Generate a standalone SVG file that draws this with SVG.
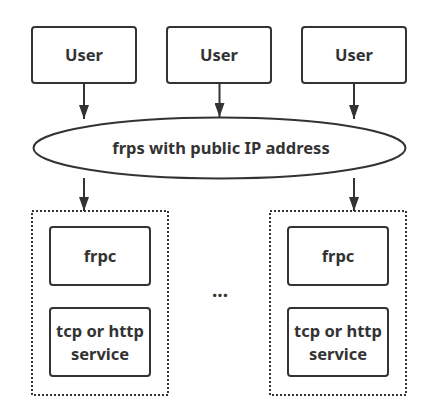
<svg xmlns="http://www.w3.org/2000/svg" width="435" height="415" viewBox="0 0 435 415">
<style>
.box{fill:#fff;stroke:#333;stroke-width:2}
.grp{fill:none;stroke:#333;stroke-width:2;stroke-dasharray:2 2}
.t{font-family:"Noto Sans","DejaVu Sans",sans-serif;font-weight:bold;font-size:16.5px;fill:#333;text-anchor:middle}
.c{stroke:#333;stroke-width:2;fill:none}
</style>
<defs>
<marker id="ah" markerWidth="14" markerHeight="10" refX="14" refY="5" orient="auto" markerUnits="userSpaceOnUse" viewBox="0 0 14 10">
<path d="M0,0 L14,5 L0,10 Z" fill="#333"/>
</marker>
</defs>
<rect width="435" height="415" fill="#fff"/>
<g id="connectors">
<line class="c" x1="84" y1="84" x2="84" y2="119" marker-end="url(#ah)"/>
<line class="c" x1="219.5" y1="84" x2="219.5" y2="117" marker-end="url(#ah)"/>
<line class="c" x1="354" y1="84" x2="354" y2="119" marker-end="url(#ah)"/>
<line class="c" x1="84" y1="178" x2="84" y2="211" marker-end="url(#ah)"/>
<line class="c" x1="354" y1="178" x2="354" y2="211" marker-end="url(#ah)"/>
</g>
<g id="user1"><rect class="box" x="32" y="27" width="104" height="56" rx="3"/><text class="t" x="84" y="61">User</text></g>
<g id="user2"><rect class="box" x="167" y="27" width="104" height="56" rx="3"/><text class="t" x="219" y="61">User</text></g>
<g id="user3"><rect class="box" x="302" y="27" width="104" height="56" rx="3"/><text class="t" x="354" y="61">User</text></g>
<g id="frps"><ellipse class="box" cx="219.5" cy="148" rx="186" ry="30.5"/><text class="t" x="221" y="154">frps with public IP address</text></g>
<g id="client1">
<rect class="grp" x="32" y="211" width="136" height="184"/>
<g id="frpc1"><rect class="box" x="50" y="227" width="100" height="58" rx="3"/><text class="t" x="100" y="262">frpc</text></g>
<g id="svc1"><rect class="box" x="50" y="308" width="100" height="68" rx="3"/><text class="t"><tspan x="100" y="337">tcp or http</tspan><tspan x="100" y="360">service</tspan></text></g>
</g>
<g id="client2">
<rect class="grp" x="270" y="211" width="136" height="184"/>
<g id="frpc2"><rect class="box" x="288" y="227" width="100" height="58" rx="3"/><text class="t" x="338" y="262">frpc</text></g>
<g id="svc2"><rect class="box" x="288" y="308" width="100" height="68" rx="3"/><text class="t"><tspan x="338" y="337">tcp or http</tspan><tspan x="338" y="360">service</tspan></text></g>
</g>
<g id="ellipsis"><text class="t" x="220" y="297" style="font-size:19px">...</text></g>
</svg>
